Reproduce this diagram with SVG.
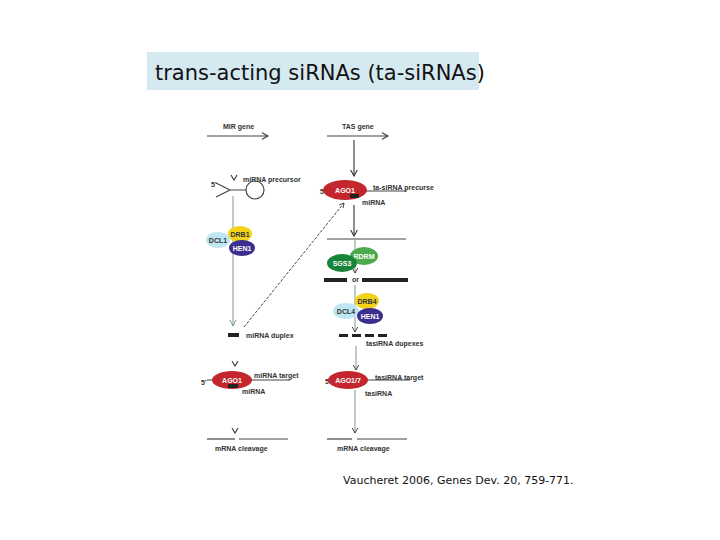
<svg xmlns="http://www.w3.org/2000/svg" width="720" height="540" viewBox="0 0 720 540">
<style>
.t{font-family:"Liberation Sans",Arial,sans-serif;font-size:7px;font-weight:bold;fill:#333}
.w{font-family:"Liberation Sans",Arial,sans-serif;font-size:7px;font-weight:bold;fill:#fff;text-anchor:middle}
.k{font-family:"Liberation Sans",Arial,sans-serif;font-size:7px;font-weight:bold;fill:#333;text-anchor:middle}
.l{stroke:#444;stroke-width:1.2;fill:none}
.g{stroke:#7a9a8a;stroke-width:1;fill:none}
</style>
<defs>
<marker id="a" viewBox="0 0 10 10" refX="9" refY="5" markerWidth="6" markerHeight="6" orient="auto"><path d="M0,0 L9,5 L0,10" fill="none" stroke="#333" stroke-width="1.5"/></marker>
</defs>
<rect width="720" height="540" fill="#fff"/>
<g id="title"><rect x="147" y="52" width="332" height="38" fill="#d5e9f1"/>
<text x="155" y="80" font-family="DejaVu Sans,sans-serif" font-size="21" fill="#111">trans-acting siRNAs (ta-siRNAs)</text></g>
<g id="connectors">
<line class="l" x1="207" y1="136" x2="268" y2="136" marker-end="url(#a)"/>
<line class="l" x1="327" y1="136" x2="388" y2="136" marker-end="url(#a)"/>
<line class="g" x1="233" y1="196" x2="233" y2="326"/>
<path class="l" d="M231,175 L234,180 L237,175"/>
<path class="g" d="M230,320 L233,326 L236,320"/>
<path class="l" d="M232,361 L235,366 L238,361"/>
<path class="l" d="M232,428 L235,433 L238,428"/>
<line class="l" x1="354" y1="140" x2="354" y2="176" marker-end="url(#a)"/>
<line class="l" x1="354" y1="205" x2="354" y2="236" marker-end="url(#a)"/>
<line class="g" x1="355" y1="240" x2="355" y2="273" marker-end="url(#a)"/>
<line class="g" x1="355" y1="285" x2="355" y2="332" marker-end="url(#a)"/>
<line class="g" x1="356" y1="346" x2="356" y2="370" marker-end="url(#a)"/>
<line class="g" x1="355" y1="390" x2="355" y2="433" marker-end="url(#a)"/>
<line x1="244" y1="327" x2="344" y2="203" stroke="#333" stroke-width="0.9" stroke-dasharray="3,1.5" marker-end="url(#a)"/>
<line class="l" x1="327" y1="239" x2="406" y2="239"/>
<line class="l" x1="207" y1="439" x2="235" y2="439"/><line class="l" x1="239" y1="439" x2="288" y2="439"/>
<line class="l" x1="327" y1="439" x2="352" y2="439"/><line class="l" x1="357" y1="439" x2="407" y2="439"/>
</g>
<g id="mir"><text x="223" y="129" class="t">MIR gene</text>
<text x="211" y="187" class="t">5'</text>
<path class="l" d="M216,183 L230,190 L216,197 M230,190 L246,190"/><circle cx="255" cy="190" r="9" class="l"/>
<text x="243" y="182" class="t">miRNA precursor</text></g>
<g id="dcl1"><ellipse cx="218" cy="240" rx="12" ry="8" fill="#bfe7f3"/><text x="218" y="243" class="k" fill="#225">DCL1</text>
<ellipse cx="240" cy="234" rx="12" ry="8" fill="#f2d31a"/><text x="240" y="237" class="k">DRB1</text>
<ellipse cx="242" cy="248" rx="13" ry="8" fill="#3b2e8c"/><text x="242" y="251" class="w">HEN1</text></g>
<g id="duplex1"><rect x="228" y="333" width="11" height="4" fill="#222"/><text x="246" y="338" class="t">miRNA duplex</text></g>
<g id="ago1a"><line class="l" x1="207" y1="380" x2="290" y2="380"/><text x="201" y="385" class="t">5'</text>
<ellipse cx="232" cy="380" rx="20" ry="9" fill="#c4262e"/><text x="232" y="383" class="w">AGO1</text>
<rect x="228" y="384" width="10" height="4" fill="#222"/>
<text x="254" y="378" class="t">miRNA target</text><text x="242" y="394" class="t">miRNA</text></g>
<g id="clv1"><text x="215" y="451" class="t">mRNA cleavage</text></g>
<g id="tas"><text x="342" y="129" class="t">TAS gene</text></g>
<g id="ago1b"><line class="l" x1="325" y1="191" x2="407" y2="191"/><text x="320" y="194" class="t">5'</text>
<ellipse cx="345" cy="190" rx="22" ry="10" fill="#c4262e"/><text x="345" y="193" class="w">AGO1</text>
<rect x="350" y="194" width="9" height="4" fill="#222"/>
<text x="373" y="190" class="t">ta-siRNA precurse</text><text x="362" y="205" class="t">miRNA</text></g>
<g id="rdrm"><ellipse cx="364" cy="256" rx="14" ry="9" fill="#4caa4c"/><text x="364" y="259" class="w">RDRM</text>
<ellipse cx="342" cy="263" rx="15" ry="9" fill="#17843a"/><text x="342" y="266" class="w">SGS3</text></g>
<g id="bars"><rect x="324" y="278" width="23" height="4" fill="#222"/><text x="352" y="282" class="t">or</text><rect x="362" y="278" width="46" height="4" fill="#222"/></g>
<g id="dcl4"><ellipse cx="346" cy="311" rx="13" ry="8" fill="#bfe7f3"/><text x="346" y="314" class="k">DCL4</text>
<ellipse cx="367" cy="301" rx="12" ry="8" fill="#f2d31a"/><text x="367" y="304" class="k">DRB4</text>
<ellipse cx="370" cy="316" rx="13" ry="8" fill="#3b2e8c"/><text x="370" y="319" class="w">HEN1</text></g>
<g id="duplex2"><rect x="339" y="334" width="9" height="3" fill="#222"/><rect x="352" y="334" width="9" height="3" fill="#222"/><rect x="365" y="334" width="9" height="3" fill="#222"/><rect x="378" y="334" width="9" height="3" fill="#222"/>
<text x="366" y="346" class="t">tasiRNA dupexes</text></g>
<g id="ago17"><line class="l" x1="328" y1="380" x2="410" y2="380"/><text x="325" y="384" class="t">5'</text>
<ellipse cx="348" cy="380" rx="20" ry="9" fill="#c4262e"/><text x="348" y="383" class="w">AGO1/7</text>
<text x="375" y="380" class="t">tasiRNA target</text><text x="365" y="396" class="t">tasiRNA</text></g>
<g id="clv2"><text x="337" y="451" class="t">mRNA cleavage</text></g>
<text x="343" y="484" font-family="DejaVu Sans,sans-serif" font-size="11" fill="#111">Vaucheret 2006, Genes Dev. 20, 759-771.</text>
</svg>
